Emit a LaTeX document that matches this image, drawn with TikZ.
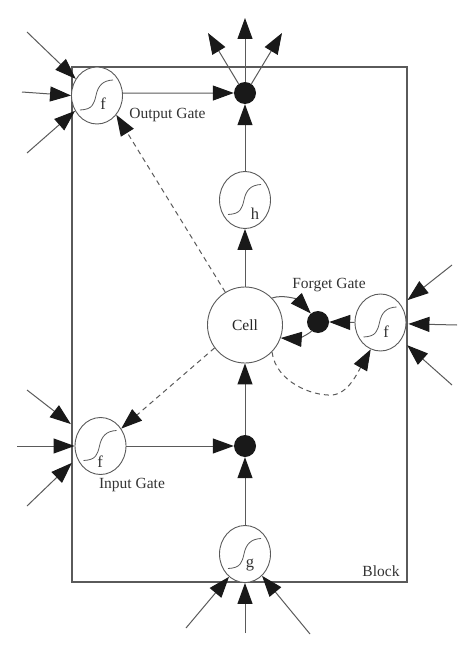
\documentclass[tikz,border=0pt]{standalone}
\usepackage{fontspec}
\setmainfont{Liberation Serif}
\usetikzlibrary{arrows.meta,shapes.geometric}
\definecolor{ln}{HTML}{5A5A5A}
\tikzset{
  x=1pt,y=-1pt,
  unit/.style={draw=ln,line width=0.9pt,ellipse,fill=white,inner sep=0pt,minimum width=51pt,minimum height=57pt},
  cellnode/.style={draw=ln,line width=0.9pt,ellipse,fill=white,inner sep=0pt,minimum width=75pt,minimum height=76pt,font=\fontsize{15.5}{17}\selectfont,text=black!85},
  dotnode/.style={circle,fill=black!90,inner sep=0pt,minimum size=22pt},
  lab/.style={font=\fontsize{15.5}{17}\selectfont,text=black!80,inner sep=0pt},
  letter/.style={font=\fontsize{16.5}{18}\selectfont,text=black!80,inner sep=0pt},
  arr/.style={draw=ln,line width=1pt,-{Triangle[length=21pt,width=15pt,color=black!90,fill=black!90]}},
  darr/.style={arr,dash pattern=on 5pt off 4pt},
  sig/.style={draw=ln,line width=0.8pt},
  blockbox/.style={draw=ln,line width=1.1pt},
  sigmoid/.pic={\path[sig] (-17,14.5) .. controls (-4,14) and (-3,8) .. (-1,0) .. controls (1,-10) and (6,-15) .. (16,-15.5);}
}
\begin{document}
\begin{tikzpicture}
\useasboundingbox (0,0) rectangle (474,650);
\draw[blockbox] (72,67) rectangle (407,582);

\node[unit] (fo) at (97,95.5) {};
\node[unit] (h) at (245,200) {};
\node[unit] (ff) at (380.5,322.5) {};
\node[unit] (fi) at (100.5,446) {};
\node[unit] (g) at (245,554) {};
\node[cellnode] (cell) at (245,325) {Cell};
\node[dotnode] (dt) at (245,93) {};
\node[dotnode] (df) at (318,322) {};
\node[dotnode] (di) at (245,446) {};

\foreach \n in {fo,h,ff,fi,g} \pic at (\n) {sigmoid};

\node[letter] at (103,104) {f};
\node[letter] at (255,214) {h};
\node[letter] at (386,332) {f};
\node[letter] at (100,462) {f};
\node[letter] at (250,565) {g};
\node[lab] at (167.5,115.5) {Output Gate};
\node[lab] at (329,285) {Forget Gate};
\node[lab] at (132,485) {Input Gate};
\node[lab] at (381,571) {Block};

\coordinate (a1) at (27,32);
\coordinate (a2) at (22,92);
\coordinate (a3) at (27,153);
\coordinate (t1) at (208,33);
\coordinate (t2) at (245,18);
\coordinate (t3) at (282,33);
\coordinate (b1) at (27,390);
\coordinate (b2) at (17,446);
\coordinate (b3) at (27,506);
\coordinate (c1) at (186,628);
\coordinate (c2) at (245,633);
\coordinate (c3) at (310,634);
\coordinate (r1) at (452,265);
\coordinate (r2) at (457,325);
\coordinate (r3) at (452,385);

\draw[arr] (a1) -- (fo.142);
\draw[arr] (a2) -- (fo.180);
\draw[arr] (a3) -- (fo.215);
\draw[arr] (dt.125) -- (t1);
\draw[arr] (dt.90) -- (t2);
\draw[arr] (dt.55) -- (t3);
\draw[arr] (fo.5) -- (dt.west);
\draw[arr] (h.north) -- (dt.south);
\draw[arr] (cell.north) -- (h.south);
\draw[darr] (cell.121) -- (fo.-45);
\draw[darr] (cell.217) -- (fi.40);
\draw[arr] (di.north) -- (cell.south);
\draw[arr] (g.north) -- (di.south);
\draw[arr] (fi.east) -- (di.west);
\draw[arr,shorten >=10pt] (b1) -- (fi.144);
\draw[arr] (b2) -- (fi.west);
\draw[arr,shorten >=7pt] (b3) -- (fi.207);
\draw[arr] (c1) -- (g.235);
\draw[arr] (c2) -- (g.south);
\draw[arr] (c3) -- (g.-52);
\draw[arr] (ff.west) -- (df.east);
\draw[arr,shorten >=8pt] (r1) -- (ff.40);
\draw[arr,shorten >=2pt] (r2) -- (ff.-3);
\draw[arr,shorten >=8pt] (r3) -- (ff.-40);
\draw[arr] (cell.45) .. controls (284,294) and (298,300) .. (df.130);
\draw[arr] (df.235) .. controls (306,336) and (296,339) .. (cell.-20);
\draw[darr] (cell.-45) .. controls (276,382) and (312,396) .. (332,395) .. controls (348,394) and (358,372) .. (ff.250);
\end{tikzpicture}
\end{document}
